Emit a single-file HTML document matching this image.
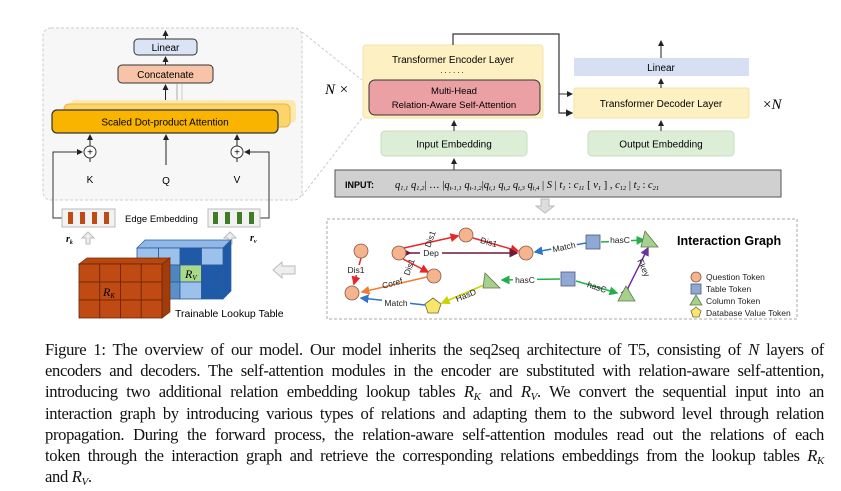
<!DOCTYPE html>
<html><head><meta charset="utf-8"><style>
body{margin:0;width:841px;height:491px;background:#fff;overflow:hidden;position:relative}
svg{position:absolute;left:0;top:0}
.cap{position:absolute;left:45px;top:339px;width:779px;font-family:"Liberation Serif",serif;font-size:16.6px;line-height:21.2px;color:#111;letter-spacing:-0.35px}
.cap div{height:21.2px;text-align:justify;text-align-last:justify;white-space:nowrap;overflow:visible}
.cap div.l{text-align-last:left}
.cap i{font-style:italic}
.cap sub{font-size:11px;vertical-align:baseline;position:relative;top:3px;line-height:0}
</style></head><body>
<svg width="841" height="330" viewBox="0 0 841 330" font-family="Liberation Sans, sans-serif">
<defs>
<marker id="a" markerWidth="6" markerHeight="6" refX="5" refY="3" orient="auto"><path d="M0,0L6,3L0,6z" fill="#222"/></marker>
<marker id="ar" markerWidth="6" markerHeight="6" refX="5" refY="3" orient="auto"><path d="M0,0L6,3L0,6z" fill="#e8262a"/></marker>
<marker id="ab" markerWidth="6" markerHeight="6" refX="5" refY="3" orient="auto"><path d="M0,0L6,3L0,6z" fill="#2e75c8"/></marker>
<marker id="ag" markerWidth="6" markerHeight="6" refX="5" refY="3" orient="auto"><path d="M0,0L6,3L0,6z" fill="#22b04a"/></marker>
<marker id="ao" markerWidth="6" markerHeight="6" refX="5" refY="3" orient="auto"><path d="M0,0L6,3L0,6z" fill="#f07c30"/></marker>
<marker id="ay" markerWidth="6" markerHeight="6" refX="5" refY="3" orient="auto"><path d="M0,0L6,3L0,6z" fill="#c8d400"/></marker>
<marker id="ap" markerWidth="6" markerHeight="6" refX="5" refY="3" orient="auto"><path d="M0,0L6,3L0,6z" fill="#7030a0"/></marker>
<marker id="am" markerWidth="6" markerHeight="6" refX="5" refY="3" orient="auto"><path d="M0,0L6,3L0,6z" fill="#6b1a3a"/></marker>
</defs>
<rect x="43" y="28" width="259" height="172" rx="8" fill="#f7f7f7" stroke="#ccc" stroke-dasharray="3,2"/>
<line x1="302" y1="32" x2="362" y2="80" stroke="#ccc" stroke-dasharray="3,2"/>
<line x1="302" y1="196" x2="362" y2="118" stroke="#ccc" stroke-dasharray="3,2"/>
<rect x="134" y="39" width="63" height="16" rx="4" fill="#dbe4f4" stroke="#333"/>
<text x="165.5" y="51" font-size="10" text-anchor="middle">Linear</text>
<rect x="118" y="65" width="95" height="18" rx="4" fill="#f7c4a8" stroke="#333"/>
<text x="165.5" y="78" font-size="10" text-anchor="middle">Concatenate</text>
<line x1="165.5" y1="39" x2="165.5" y2="31" stroke="#222" marker-end="url(#a)"/>
<line x1="165.5" y1="65" x2="165.5" y2="57" stroke="#222" marker-end="url(#a)"/>
<line x1="165.5" y1="110" x2="165.5" y2="85" stroke="#222" marker-end="url(#a)"/>
<line x1="177" y1="100" x2="177" y2="84" stroke="#aaa"/><line x1="182" y1="100" x2="182" y2="84" stroke="#ccc"/>
<rect x="70" y="100" width="226" height="23" rx="5" fill="#fde9b0"/>
<rect x="64" y="104" width="226" height="23" rx="5" fill="#fbd46a" stroke="#e8b640"/>
<rect x="52" y="110" width="226" height="23" rx="5" fill="#f9b400" stroke="#333" stroke-width="1.2"/>
<text x="165" y="125.5" font-size="10" text-anchor="middle">Scaled Dot-product Attention</text>
<circle cx="90" cy="152" r="6" fill="#fff" stroke="#333"/><text x="90" y="155.5" font-size="10" text-anchor="middle">+</text>
<circle cx="237" cy="152" r="6" fill="#fff" stroke="#333"/><text x="237" y="155.5" font-size="10" text-anchor="middle">+</text>
<line x1="90" y1="146" x2="90" y2="135" stroke="#222" marker-end="url(#a)"/>
<line x1="237" y1="146" x2="237" y2="135" stroke="#222" marker-end="url(#a)"/>
<line x1="90" y1="162" x2="90" y2="158" stroke="#222"/><line x1="237" y1="162" x2="237" y2="158" stroke="#222"/>
<line x1="166" y1="165" x2="166" y2="135" stroke="#222" marker-end="url(#a)"/>
<text x="90" y="183" font-size="10" text-anchor="middle">K</text>
<text x="166" y="184" font-size="10" text-anchor="middle">Q</text>
<text x="237" y="183" font-size="10" text-anchor="middle">V</text>
<path d="M62,218H53V152H82" fill="none" stroke="#333" marker-end="url(#a)"/>
<path d="M260,218H269V152H245" fill="none" stroke="#333" marker-end="url(#a)"/>
<rect x="62" y="209" width="53" height="18" fill="#f2f2f2" stroke="#bbb"/>
<g fill="#c04a14"><rect x="68" y="212" width="5" height="12"/><rect x="80" y="212" width="5" height="12"/><rect x="92" y="212" width="5" height="12"/><rect x="104" y="212" width="5" height="12"/></g>
<rect x="208" y="209" width="52" height="18" fill="#f2f2f2" stroke="#bbb"/>
<g fill="#3e7d25"><rect x="213" y="212" width="5" height="12"/><rect x="225" y="212" width="5" height="12"/><rect x="237" y="212" width="5" height="12"/><rect x="249" y="212" width="5" height="12"/></g>
<text x="125" y="222" font-size="9.5">Edge Embedding</text>
<text x="66" y="242" font-size="10" font-style="italic" font-weight="bold" font-family="Liberation Serif, serif">r<tspan font-size="6" dy="2">k</tspan></text>
<text x="250" y="241" font-size="10" font-style="italic" font-weight="bold" font-family="Liberation Serif, serif">r<tspan font-size="6" dy="2">v</tspan></text>
<path d="M94,238l-6,-6l-6,6h4v6h4v-6z" fill="#eee" stroke="#bbb"/>
<path d="M236,238l-6,-6l-6,6h4v6h4v-6z" fill="#eee" stroke="#bbb"/>
<path d="M137,248l8,-8h86l-8,8z" fill="#8fb8e8" stroke="#2b5a9a" stroke-width="0.7"/>
<path d="M223,248l8,-8v51l-8,8z" fill="#1f5aa8" stroke="#2b5a9a" stroke-width="0.7"/>
<g stroke="#2b5a9a" stroke-width="0.8">
<rect x="137" y="248" width="21.5" height="17" fill="#9cc2ec"/><rect x="158.5" y="248" width="21.5" height="17" fill="#9cc2ec"/><rect x="180" y="248" width="21.5" height="17" fill="#1f5aa8"/><rect x="201.5" y="248" width="21.5" height="17" fill="#9cc2ec"/>
<rect x="137" y="265" width="21.5" height="17" fill="#5b8fc8"/><rect x="158.5" y="265" width="21.5" height="17" fill="#4f86c0"/><rect x="180" y="265" width="21.5" height="17" fill="#a9d88a"/><rect x="201.5" y="265" width="21.5" height="17" fill="#1f5aa8"/>
<rect x="137" y="282" width="21.5" height="17" fill="#5b8fc8"/><rect x="158.5" y="282" width="21.5" height="17" fill="#5b8fc8"/><rect x="180" y="282" width="21.5" height="17" fill="#9cc2ec"/><rect x="201.5" y="282" width="21.5" height="17" fill="#1f5aa8"/>
</g>
<text x="185" y="278" font-size="12" font-style="italic" font-family="Liberation Serif, serif">R<tspan font-size="7" dy="2">V</tspan></text>
<path d="M79,264l8,-6h83l-8,6z" fill="#b8460f" stroke="#7a2a05" stroke-width="0.7"/>
<path d="M162,264l8,-6v54l-8,6z" fill="#a23c0b" stroke="#7a2a05" stroke-width="0.7"/>
<g fill="#c04a14" stroke="#6a2505" stroke-width="0.8">
<rect x="79" y="264" width="20.75" height="18"/><rect x="99.75" y="264" width="20.75" height="18"/><rect x="120.5" y="264" width="20.75" height="18"/><rect x="141.25" y="264" width="20.75" height="18"/>
<rect x="79" y="282" width="20.75" height="18"/><rect x="99.75" y="282" width="20.75" height="18"/><rect x="120.5" y="282" width="20.75" height="18"/><rect x="141.25" y="282" width="20.75" height="18"/>
<rect x="79" y="300" width="20.75" height="18"/><rect x="99.75" y="300" width="20.75" height="18"/><rect x="120.5" y="300" width="20.75" height="18"/><rect x="141.25" y="300" width="20.75" height="18"/>
</g>
<text x="103" y="296" font-size="12" font-style="italic" font-family="Liberation Serif, serif">R<tspan font-size="7" dy="2">K</tspan></text>
<text x="175" y="317" font-size="10.5">Trainable Lookup Table</text>
<path d="M273,270l9,-8v4h13v8h-13v4z" fill="#eee" stroke="#bbb"/>
<rect x="363" y="45" width="180" height="73" rx="3" fill="#fdf0c2" stroke="#f3e3a8"/>
<text x="453" y="63" font-size="10" text-anchor="middle">Transformer Encoder Layer</text>
<text x="453" y="73" font-size="8" text-anchor="middle" letter-spacing="2">......</text>
<rect x="369" y="80" width="171" height="35" rx="6" fill="#eba1a4" stroke="#333"/>
<text x="454" y="94" font-size="9.5" text-anchor="middle">Multi-Head</text>
<text x="454" y="108" font-size="9.5" text-anchor="middle">Relation-Aware Self-Attention</text>
<text x="325" y="94" font-size="15" font-style="italic" font-family="Liberation Serif, serif">N ×</text>
<rect x="381" y="131" width="146" height="25" rx="4" fill="#dcefd6" stroke="#c8dcc0"/>
<text x="454" y="147.5" font-size="10" text-anchor="middle">Input Embedding</text>
<line x1="454" y1="131" x2="454" y2="121" stroke="#222" marker-end="url(#a)"/>
<line x1="454" y1="170" x2="454" y2="159" stroke="#222" marker-end="url(#a)"/>
<path d="M453,45V34H559V113H572" fill="none" stroke="#333" stroke-width="1.2" marker-end="url(#a)"/>
<line x1="559" y1="94" x2="572" y2="94" stroke="#333" marker-end="url(#a)"/>
<rect x="574" y="58" width="175" height="18" fill="#d6e0f2"/>
<text x="661" y="71" font-size="10" text-anchor="middle">Linear</text>
<rect x="574" y="88" width="175" height="30" rx="2" fill="#fdf0c2" stroke="#f3e3a8"/>
<text x="661" y="107" font-size="10" text-anchor="middle">Transformer Decoder Layer</text>
<text x="763" y="109" font-size="15" font-family="Liberation Serif, serif">×<tspan font-style="italic">N</tspan></text>
<rect x="588" y="131" width="146" height="25" rx="4" fill="#dcefd6" stroke="#c8dcc0"/>
<text x="661" y="147.5" font-size="10" text-anchor="middle">Output Embedding</text>
<line x1="661" y1="131" x2="661" y2="121" stroke="#222" marker-end="url(#a)"/>
<line x1="661" y1="88" x2="661" y2="79" stroke="#222" marker-end="url(#a)"/>
<line x1="661" y1="58" x2="661" y2="41" stroke="#222" marker-end="url(#a)"/>
<rect x="335" y="170" width="446" height="27" fill="#d0d0d0" stroke="#555"/>
<text x="345" y="188" font-size="9" font-weight="bold">INPUT:</text>
<text x="395" y="188" font-size="10.5" font-style="italic" font-family="Liberation Serif, serif">q<tspan font-size="6.5" dy="2">1,1</tspan><tspan dy="-2"> q</tspan><tspan font-size="6.5" dy="2">1,2</tspan><tspan dy="-2" font-style="normal">| … |</tspan>q<tspan font-size="6.5" dy="2">t-1,1</tspan><tspan dy="-2"> q</tspan><tspan font-size="6.5" dy="2">t-1,2</tspan><tspan dy="-2" font-style="normal">|</tspan>q<tspan font-size="6.5" dy="2">t,1</tspan><tspan dy="-2"> q</tspan><tspan font-size="6.5" dy="2">t,2</tspan><tspan dy="-2"> q</tspan><tspan font-size="6.5" dy="2">t,3</tspan><tspan dy="-2"> q</tspan><tspan font-size="6.5" dy="2">t,4</tspan><tspan dy="-2" font-style="normal"> | </tspan>S<tspan font-style="normal"> | </tspan>t<tspan font-size="6.5" dy="2">1</tspan><tspan dy="-2" font-style="normal"> : </tspan>c<tspan font-size="6.5" dy="2">11</tspan><tspan dy="-2" font-style="normal"> [ </tspan>v<tspan font-size="6.5" dy="2">1</tspan><tspan dy="-2" font-style="normal"> ] , </tspan>c<tspan font-size="6.5" dy="2">12</tspan><tspan dy="-2" font-style="normal"> | </tspan>t<tspan font-size="6.5" dy="2">2</tspan><tspan dy="-2" font-style="normal"> : </tspan>c<tspan font-size="6.5" dy="2">21</tspan></text>
<path d="M541,199h8v7h5l-9,7l-9,-7h5z" fill="#ddd" stroke="#bbb"/>
<rect x="327" y="219" width="470" height="100" fill="#fff" stroke="#aaa" stroke-dasharray="3,2"/>
<text x="677" y="245" font-size="12.5" font-weight="bold">Interaction Graph</text>
<g stroke-width="1.5" fill="none">
<line x1="361" y1="258" x2="354" y2="284" stroke="#e8262a" marker-end="url(#ar)"/>
<line x1="404" y1="248" x2="458" y2="236" stroke="#e8262a" marker-end="url(#ar)"/>
<line x1="473" y1="238" x2="518" y2="251" stroke="#e8262a" marker-end="url(#ar)"/>
<line x1="403" y1="259" x2="428" y2="272" stroke="#e8262a" marker-end="url(#ar)"/>
<line x1="410" y1="253" x2="517" y2="253" stroke="#6b1a3a" marker-end="url(#am)" marker-start="url(#am)"/>
<line x1="586" y1="243" x2="535" y2="252" stroke="#2e75c8" marker-end="url(#ab)"/>
<line x1="601" y1="242" x2="644" y2="240" stroke="#22b04a" marker-end="url(#ag)"/>
<line x1="560" y1="279" x2="502" y2="280" stroke="#22b04a" marker-end="url(#ag)"/>
<line x1="576" y1="281" x2="617" y2="293" stroke="#22b04a" marker-end="url(#ag)"/>
<line x1="628" y1="288" x2="648" y2="248" stroke="#7030a0" marker-end="url(#ap)" marker-start="url(#ap)"/>
<line x1="427" y1="277" x2="362" y2="292" stroke="#f07c30" marker-end="url(#ao)"/>
<line x1="484" y1="285" x2="442" y2="303" stroke="#c8d400" marker-end="url(#ay)"/>
<line x1="425" y1="305" x2="361" y2="298" stroke="#2e75c8" marker-end="url(#ab)"/>
</g>
<g font-size="8.5" fill="#222" text-anchor="middle">
<rect x="345" y="265" width="20" height="10" fill="#fff"/><text x="356" y="273">Dis1</text>
<rect x="420" y="248" width="22" height="10" fill="#fff"/><text x="431" y="256">Dep</text>
<text x="433" y="240" transform="rotate(-70 433 240)">Dis1</text>
<text x="488" y="245" transform="rotate(15 488 245)">Dis1</text>
<text x="412" y="268" transform="rotate(-70 412 268)">Dis1</text>
<rect x="551" y="242" width="26" height="10" fill="#fff" transform="rotate(-12 564 247)"/><text x="564" y="250" transform="rotate(-12 564 247)">Match</text>
<rect x="609" y="235" width="22" height="10" fill="#fff"/><text x="620" y="243">hasC</text>
<rect x="513" y="275" width="24" height="10" fill="#fff"/><text x="525" y="283">hasC</text>
<text x="596" y="290" transform="rotate(18 596 290)">hasC</text>
<text x="641" y="269" transform="rotate(65 641 269)">Fkey</text>
<text x="393" y="286" transform="rotate(-15 393 286)">Coref</text>
<text x="467" y="298" transform="rotate(-22 467 298)">HasD</text>
<rect x="382" y="298" width="28" height="10" fill="#fff"/><text x="396" y="306">Match</text>
</g>
<g fill="#f4b48e" stroke="#8a5a40" stroke-width="0.8">
<circle cx="361" cy="251" r="7"/><circle cx="399" cy="253" r="7"/><circle cx="466" cy="235" r="7"/><circle cx="526" cy="253" r="7"/><circle cx="434" cy="276" r="7"/><circle cx="352" cy="293" r="7"/>
<circle cx="696" cy="277" r="5"/>
</g>
<g fill="#8fa9d4" stroke="#4a5a7a" stroke-width="0.8">
<rect x="586" y="235" width="14" height="14"/><rect x="561" y="272" width="14" height="14"/><rect x="691" y="284" width="10" height="10"/>
</g>
<g fill="#a8d08d" stroke="#5a7a4a" stroke-width="0.8">
<path d="M645,231l-4,16h17z"/><path d="M485,273l-2,15h17z"/><path d="M626,286l-8,15h17z"/><path d="M696,295l-6,10h12z"/>
</g>
<g fill="#fbe46a" stroke="#6a6a40" stroke-width="0.8">
<path d="M433,298l8,6l-3,9h-10l-3,-9z"/><path d="M696,307l5,4l-2,6h-6l-2,-6z"/>
</g>
<g font-size="8.5" fill="#222">
<text x="706" y="280">Question Token</text><text x="706" y="292">Table Token</text><text x="706" y="304">Column Token</text><text x="706" y="316">Database Value Token</text>
</g>
</svg>
<div class="cap">
<div>Figure 1: The overview of our model. Our model inherits the seq2seq architecture of T5, consisting of <i>N</i> layers of</div>
<div>encoders and decoders. The self-attention modules in the encoder are substituted with relation-aware self-attention,</div>
<div>introducing two additional relation embedding lookup tables <i>R<sub>K</sub></i> and <i>R<sub>V</sub></i>. We convert the sequential input into an</div>
<div>interaction graph by introducing various types of relations and adapting them to the subword level through relation</div>
<div>propagation. During the forward process, the relation-aware self-attention modules read out the relations of each</div>
<div>token through the interaction graph and retrieve the corresponding relations embeddings from the lookup tables <i>R<sub>K</sub></i></div>
<div class="l">and <i>R<sub>V</sub></i>.</div>
</div>
</body></html>
